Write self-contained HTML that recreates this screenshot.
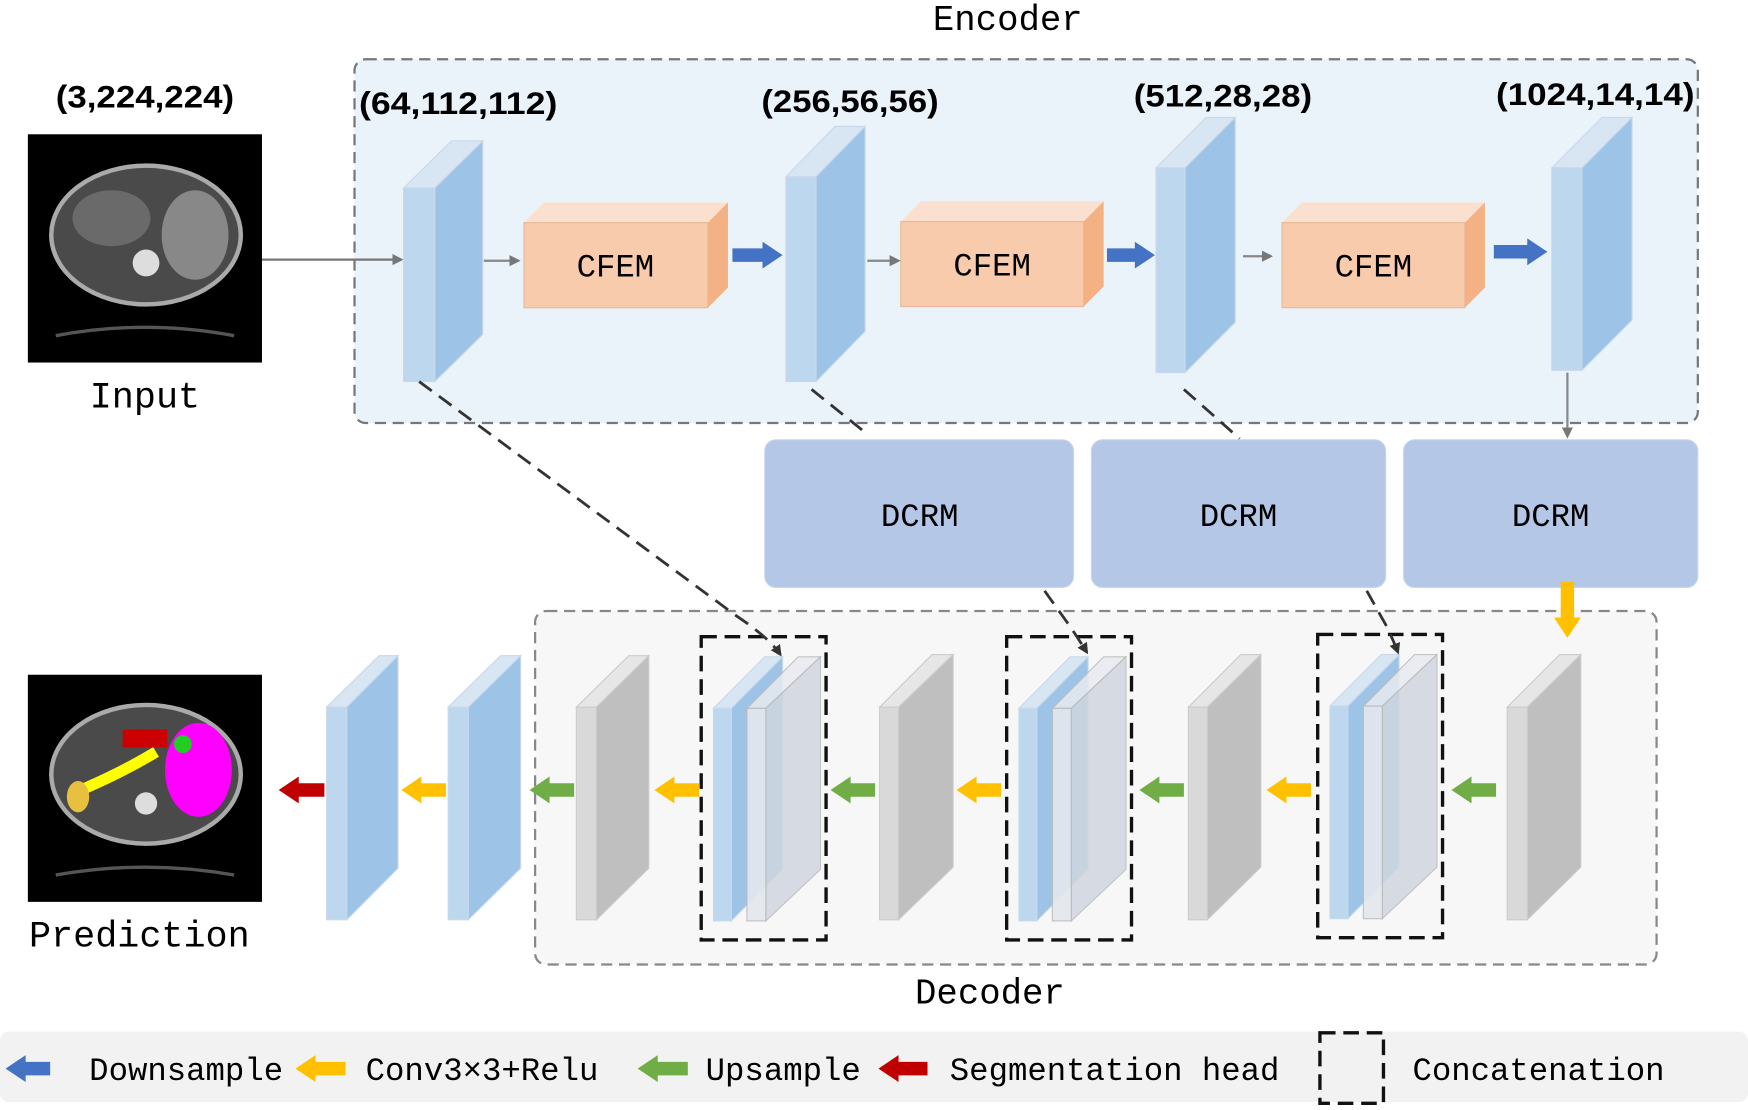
<!DOCTYPE html>
<html><head><meta charset="utf-8"><style>
html,body{margin:0;padding:0;background:#fff;}
svg{display:block;}
text{font-family:"Liberation Mono",monospace;}
.n{font-family:"Liberation Sans",sans-serif;font-size:28px;font-weight:bold;}
</style></head><body>
<svg width="1748" height="1110" viewBox="0 0 1568 992" preserveAspectRatio="none" xmlns="http://www.w3.org/2000/svg">
<defs>
<marker id="ah" markerWidth="10" markerHeight="10" refX="8" refY="5" orient="auto" markerUnits="userSpaceOnUse"><path d="M0,0 L10,5 L0,10 z" fill="#333"/></marker>
<marker id="gh" markerWidth="10" markerHeight="10" refX="8" refY="5" orient="auto" markerUnits="userSpaceOnUse"><path d="M0,0 L10,5 L0,10 z" fill="#777"/></marker>
</defs>
<rect width="1568" height="992" fill="#fff"/>
<!-- Encoder -->
<text x="904" y="27" font-size="32" text-anchor="middle">Encoder</text>
<rect x="318" y="53" width="1205" height="325" rx="10" fill="#eaf2fa" stroke="#777" stroke-width="2" stroke-dasharray="10,6"/>
<!-- Input -->
<rect x="25" y="120" width="210" height="204" fill="#000"/>
<ellipse cx="131" cy="210" rx="85" ry="62" fill="#4a4a4a" stroke="#aaa" stroke-width="4"/>
<ellipse cx="175" cy="210" rx="30" ry="40" fill="#888"/>
<ellipse cx="100" cy="195" rx="35" ry="25" fill="#6a6a6a"/>
<circle cx="131" cy="235" r="12" fill="#ddd"/>
<path d="M50 300 Q130 285 210 300" stroke="#555" stroke-width="3" fill="none"/>
<text class="n" x="50" y="96" textLength="160" lengthAdjust="spacingAndGlyphs">(3,224,224)</text>
<text x="130" y="364" font-size="33" text-anchor="middle">Input</text>
<line x1="235" y1="232" x2="360" y2="232" stroke="#777" stroke-width="2" marker-end="url(#gh)"/>
<!-- labels -->
<text class="n" x="322" y="102" textLength="178" lengthAdjust="spacingAndGlyphs">(64,112,112)</text>
<text class="n" x="683" y="100" textLength="159" lengthAdjust="spacingAndGlyphs">(256,56,56)</text>
<text class="n" x="1017" y="95" textLength="160" lengthAdjust="spacingAndGlyphs">(512,28,28)</text>
<text class="n" x="1342" y="94" textLength="178" lengthAdjust="spacingAndGlyphs">(1024,14,14)</text>
<!-- encoder blocks -->
<g stroke="#c8d8ea" stroke-width="1">
<polygon points="362,168 405,126 433,126 390,168" fill="#d8e6f4"/>
<polygon points="390,168 433,126 433,299 390,341" fill="#9dc3e6"/>
<rect x="362" y="168" width="28" height="173" fill="#bdd7ee"/>
<polygon points="705,158 749,113 776,113 732,158" fill="#d8e6f4"/>
<polygon points="732,158 776,113 776,296 732,341" fill="#9dc3e6"/>
<rect x="705" y="158" width="27" height="183" fill="#bdd7ee"/>
<polygon points="1037,150 1082,105 1108,105 1063,150" fill="#d8e6f4"/>
<polygon points="1063,150 1108,105 1108,288 1063,333" fill="#9dc3e6"/>
<rect x="1037" y="150" width="26" height="183" fill="#bdd7ee"/>
<polygon points="1392,150 1437,105 1464,105 1419,150" fill="#d8e6f4"/>
<polygon points="1419,150 1464,105 1464,286 1419,331" fill="#9dc3e6"/>
<rect x="1392" y="150" width="27" height="181" fill="#bdd7ee"/>
</g>
<!-- CFEM -->
<g>
<polygon points="470,199 488,181 653,181 635,199" fill="#fbe0cf"/>
<polygon points="635,199 653,181 653,257 635,275" fill="#f4b183"/>
<rect x="470" y="199" width="165" height="76" fill="#f8cbad" stroke="#e8b898"/>
<text x="552" y="247" font-size="29" text-anchor="middle">CFEM</text>
<polygon points="808,198 826,180 990,180 972,198" fill="#fbe0cf"/>
<polygon points="972,198 990,180 990,256 972,274" fill="#f4b183"/>
<rect x="808" y="198" width="164" height="76" fill="#f8cbad" stroke="#e8b898"/>
<text x="890" y="246" font-size="29" text-anchor="middle">CFEM</text>
<polygon points="1150,199 1168,181 1332,181 1314,199" fill="#fbe0cf"/>
<polygon points="1314,199 1332,181 1332,257 1314,275" fill="#f4b183"/>
<rect x="1150" y="199" width="164" height="76" fill="#f8cbad" stroke="#e8b898"/>
<text x="1232" y="247" font-size="29" text-anchor="middle">CFEM</text>
</g>
<g stroke="#888" stroke-width="2">
<line x1="434" y1="233" x2="465" y2="233" marker-end="url(#gh)"/>
<line x1="778" y1="233" x2="806" y2="233" marker-end="url(#gh)"/>
<line x1="1115" y1="229" x2="1140" y2="229" marker-end="url(#gh)"/>
<line x1="1406" y1="333" x2="1406" y2="390" marker-end="url(#gh)"/>
</g>
<g fill="#4472c4">
<polygon points="702,228 684,216 684,222 657,222 657,234 684,234 684,240"/>
<polygon points="1036,228 1018,216 1018,222 993,222 993,234 1018,234 1018,240"/>
<polygon points="1388,225 1370,213 1370,219 1340,219 1340,231 1370,231 1370,237"/>
</g>
<!-- DCRM -->
<g fill="#b4c7e7" stroke="#c9d6ec">
<rect x="686" y="393" width="277" height="132" rx="10"/>
<rect x="979" y="393" width="264" height="132" rx="10"/>
<rect x="1259" y="393" width="264" height="132" rx="10"/>
</g>
<text x="825" y="470" font-size="29" text-anchor="middle">DCRM</text>
<text x="1111" y="470" font-size="29" text-anchor="middle">DCRM</text>
<text x="1391" y="470" font-size="29" text-anchor="middle">DCRM</text>
<!-- Decoder -->
<rect x="480" y="546" width="1006" height="316" rx="10" fill="#f7f7f7" stroke="#888" stroke-width="2" stroke-dasharray="10,6"/>
<polygon points="1406,570 1394,552 1400,552 1400,520 1412,520 1412,552 1418,552" fill="#ffc000"/>
<text x="888" y="897" font-size="32" text-anchor="middle">Decoder</text>
<g stroke="#ccc" stroke-width="1">
<polygon points="1352,632 1399,585 1418,585 1370,632" fill="#e6e6e6"/>
<polygon points="1370,632 1418,585 1418,775 1370,822" fill="#bfbfbf"/>
<rect x="1352" y="632" width="18" height="190" fill="#d9d9d9"/>
<polygon points="1066,632 1113,585 1131,585 1083,632" fill="#e6e6e6"/>
<polygon points="1083,632 1131,585 1131,775 1083,822" fill="#bfbfbf"/>
<rect x="1066" y="632" width="17" height="190" fill="#d9d9d9"/>
<polygon points="789,632 836,585 855,585 806,632" fill="#e6e6e6"/>
<polygon points="806,632 855,585 855,775 806,822" fill="#bfbfbf"/>
<rect x="789" y="632" width="17" height="190" fill="#d9d9d9"/>
<polygon points="517,632 564,586 582,586 535,632" fill="#e6e6e6"/>
<polygon points="535,632 582,586 582,776 535,822" fill="#bfbfbf"/>
<rect x="517" y="632" width="18" height="190" fill="#d9d9d9"/>
</g>
<g stroke="#c8d8ea" stroke-width="1">
<polygon points="402,632 449,586 467,586 420,632" fill="#d8e6f4"/>
<polygon points="420,632 467,586 467,776 420,822" fill="#9dc3e6"/>
<rect x="402" y="632" width="18" height="190" fill="#bdd7ee"/>
<polygon points="293,632 340,586 357,586 311,632" fill="#d8e6f4"/>
<polygon points="311,632 357,586 357,776 311,822" fill="#9dc3e6"/>
<rect x="293" y="632" width="18" height="190" fill="#bdd7ee"/>
</g>
<g id="c1">
<polygon points="640,633 686,587 702,587 656,633" fill="#d8e6f4" stroke="#c8d8ea"/>
<polygon points="656,633 702,587 702,777 656,823" fill="#9dc3e6" stroke="#c8d8ea"/>
<rect x="640" y="633" width="16" height="190" fill="#bdd7ee" stroke="#c8d8ea"/>
<polygon points="670,633 716,587 736,587 687,633" fill="#e8ebf0" opacity="0.85" stroke="#bbb"/>
<polygon points="687,633 736,587 736,777 687,823" fill="#d0d6e0" opacity="0.85" stroke="#bbb"/>
<rect x="670" y="633" width="17" height="190" fill="#e4e8ee" opacity="0.9" stroke="#bbb"/>
<rect x="629" y="569" width="112" height="271" fill="none" stroke="#111" stroke-width="3" stroke-dasharray="14,7"/>
</g>
<use href="#c1" x="274" y="0"/>
<use href="#c1" x="553" y="-2"/>
<g stroke="#333" stroke-width="2.5" stroke-dasharray="14,8" fill="none">
<path d="M376,341 L660,550 Q690,570 700,585" marker-end="url(#ah)"/>
<line x1="728" y1="348" x2="778" y2="388"/>
<path d="M937,528 L960,560 Q970,575 975,583" marker-end="url(#ah)"/>
<line x1="1062" y1="348" x2="1112" y2="392"/>
<path d="M1226,528 L1244,560 Q1251,575 1254,583" marker-end="url(#ah)"/>
</g>
<g>
<polygon points="1302,706 1320,694 1320,700 1342,700 1342,712 1320,712 1320,718" fill="#70ad47"/>
<polygon points="1136,706 1154,694 1154,700 1176,700 1176,712 1154,712 1154,718" fill="#ffc000"/>
<polygon points="1022,706 1040,694 1040,700 1062,700 1062,712 1040,712 1040,718" fill="#70ad47"/>
<polygon points="858,706 876,694 876,700 898,700 898,712 876,712 876,718" fill="#ffc000"/>
<polygon points="745,706 763,694 763,700 785,700 785,712 763,712 763,718" fill="#70ad47"/>
<polygon points="587,706 605,694 605,700 627,700 627,712 605,712 605,718" fill="#ffc000"/>
<polygon points="475,706 493,694 493,700 515,700 515,712 493,712 493,718" fill="#70ad47"/>
<polygon points="360,706 378,694 378,700 400,700 400,712 378,712 378,718" fill="#ffc000"/>
<polygon points="250,706 268,694 268,700 291,700 291,712 268,712 268,718" fill="#c00000"/>
</g>
<!-- Prediction -->
<rect x="25" y="603" width="210" height="203" fill="#000"/>
<ellipse cx="131" cy="692" rx="85" ry="62" fill="#4a4a4a" stroke="#aaa" stroke-width="4"/>
<ellipse cx="178" cy="688" rx="30" ry="42" fill="#ff00ff"/>
<path d="M75 705 Q110 690 140 672" stroke="#ffff00" stroke-width="10" fill="none"/>
<ellipse cx="70" cy="712" rx="10" ry="14" fill="#e8c040"/>
<rect x="110" y="652" width="40" height="16" fill="#cc0000"/>
<circle cx="164" cy="665" r="8" fill="#22cc22"/>
<circle cx="131" cy="718" r="10" fill="#ddd"/>
<path d="M50 782 Q130 768 210 782" stroke="#555" stroke-width="3" fill="none"/>
<text x="125" y="846" font-size="33" text-anchor="middle">Prediction</text>
<!-- Legend -->
<rect x="0" y="922" width="1568" height="63" rx="8" fill="#f2f2f2"/>
<polygon points="5,955 23,943 23,949 45,949 45,961 23,961 23,967" fill="#4472c4"/>
<text x="80" y="965" font-size="29">Downsample</text>
<polygon points="265,955 283,943 283,949 310,949 310,961 283,961 283,967" fill="#ffc000"/>
<text x="328" y="965" font-size="29">Conv3×3+Relu</text>
<polygon points="572,955 590,943 590,949 617,949 617,961 590,961 590,967" fill="#70ad47"/>
<text x="633" y="965" font-size="29">Upsample</text>
<polygon points="788,955 806,943 806,949 832,949 832,961 806,961 806,967" fill="#c00000"/>
<text x="852" y="965" font-size="29">Segmentation head</text>
<rect x="1184" y="923" width="57" height="63" fill="none" stroke="#111" stroke-width="3" stroke-dasharray="14,7"/>
<text x="1267" y="965" font-size="29">Concatenation</text>
</svg>
</body></html>
